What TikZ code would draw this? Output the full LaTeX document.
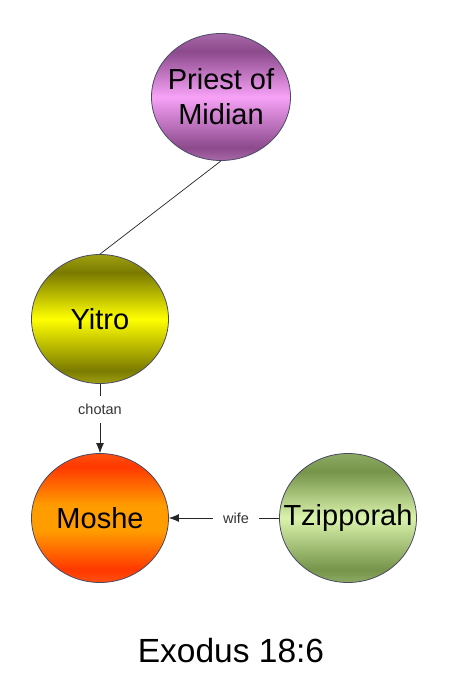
\documentclass[tikz,border=0pt]{standalone}
\usepackage{fontspec}
\setmainfont{Liberation Sans}
\usetikzlibrary{shapes.geometric,arrows.meta}
\definecolor{prdark}{HTML}{8C4A8C}\definecolor{prlight}{HTML}{F7A2F7}\definecolor{predge}{HTML}{A86AA8}
\definecolor{yidark}{HTML}{7A7A00}\definecolor{yilight}{HTML}{FFFF00}\definecolor{yiedge}{HTML}{A0A010}
\definecolor{modark}{HTML}{FF3800}\definecolor{molight}{HTML}{FF9C00}\definecolor{moedge}{HTML}{FF5010}
\definecolor{tzdark}{HTML}{76944A}\definecolor{tzlight}{HTML}{DAF3AC}\definecolor{tzedge}{HTML}{8CAA62}
\definecolor{rim}{HTML}{4A4A66}
\pgfdeclareverticalshading{prshade}{100bp}{color(0bp)=(predge);color(25bp)=(predge);color(30bp)=(prdark);color(50bp)=(prlight);color(68bp)=(prdark);color(75bp)=(predge);color(100bp)=(predge)}
\pgfdeclareverticalshading{yishade}{100bp}{color(0bp)=(yiedge);color(25bp)=(yiedge);color(30bp)=(yidark);color(50bp)=(yilight);color(68bp)=(yidark);color(75bp)=(yiedge);color(100bp)=(yiedge)}
\pgfdeclareverticalshading{moshade}{100bp}{color(0bp)=(moedge);color(25bp)=(moedge);color(30bp)=(modark);color(45bp)=(molight);color(55bp)=(molight);color(70bp)=(modark);color(75bp)=(moedge);color(100bp)=(moedge)}
\pgfdeclareverticalshading{tzshade}{100bp}{color(0bp)=(tzedge);color(25bp)=(tzedge);color(30bp)=(tzdark);color(50bp)=(tzlight);color(68bp)=(tzdark);color(75bp)=(tzedge);color(100bp)=(tzedge)}
\newcommand{\zw}[1]{\makebox[0pt]{#1}}
\tikzset{
  person/.style={ellipse, draw=rim, line width=0.8pt, inner sep=0pt,
    minimum width=137pt, minimum height=129pt, align=center,
    font=\fontsize{29}{35}\selectfont},
  link/.style={line width=0.7pt, draw=black!85},
  arr/.style={link, -{Latex[length=10pt,width=8pt]}},
  lbl/.style={fill=white, inner xsep=10pt, inner ysep=8pt, text=black!80,
    font=\fontsize{14.5}{14.5}\selectfont}
}
\begin{document}
\begin{tikzpicture}[x=1pt,y=1pt]
\fill[white] (0,0) rectangle (449,-694);
\useasboundingbox (0,0) rectangle (449,-694);
\node[person, shading=prshade, minimum width=139pt, minimum height=127pt] (priest) at (221,-97) {\zw{Priest of}\\\zw{Midian}};
\node[person, shading=yishade] (yitro) at (100,-319) {\zw{Yitro}};
\node[person, shading=moshade] (moshe) at (100,-518) {\zw{Moshe}};
\node[person, shading=tzshade] (tzip) at (348,-518) {\zw{Tzipporah}};
\node[anchor=base, font=\fontsize{33.5}{33.5}\selectfont] (ref) at (231,-662) {Exodus 18:6};
\draw[link] (priest.south) -- (yitro.north);
\draw[arr] (yitro.south) -- node[lbl, pos=0.37] (chotan) {chotan} (moshe.north);
\draw[arr] (tzip.west) -- node[lbl, pos=0.39] (wife) {wife} (moshe.east);
\end{tikzpicture}
\end{document}
